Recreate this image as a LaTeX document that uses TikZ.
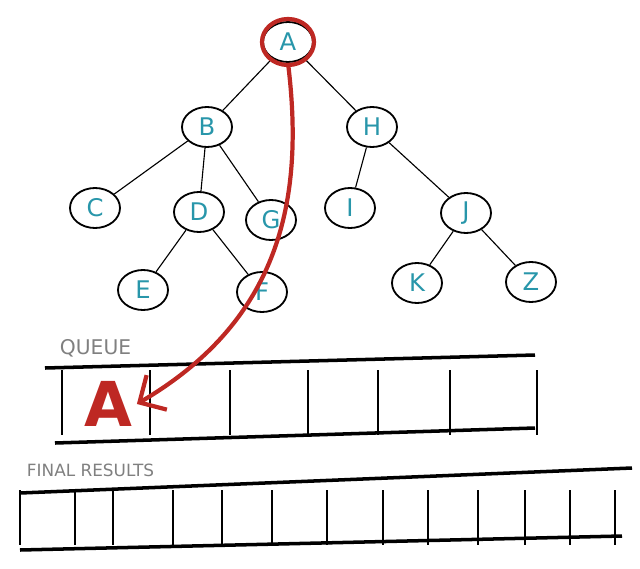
\documentclass[tikz,border=0pt]{standalone}
\usepackage{fontspec}
\setmainfont{DejaVu Sans}
\usetikzlibrary{shapes.geometric,arrows.meta}
\definecolor{teal}{RGB}{40,150,170}
\definecolor{pen}{RGB}{190,40,35}
\begin{document}
\begin{tikzpicture}[x=0.025cm,y=-0.025cm,
    vertex/.style ={ellipse, draw, line width=1.3pt, minimum width=1.25cm, minimum height=1cm, inner sep=0pt, text=teal, font=\LARGE},
    bar/.style={line width=2.5pt},
    tick/.style={line width=1.5pt}]
   \useasboundingbox (0,0) rectangle (640,568);
   \node[vertex] (A) at (288,42)  {A};
   \node[vertex] (B) at (207,127) {B};
   \node[vertex] (H) at (372,127) {H};
   \node[vertex] (C) at (95,208)  {C};
   \node[vertex] (D) at (199,212) {D};
   \node[vertex] (G) at (271,220) {G};
   \node[vertex] (I) at (350,208) {I};
   \node[vertex] (J) at (466,213) {J};
   \node[vertex] (E) at (143,290) {E};
   \node[vertex] (F) at (262,292) {F};
   \node[vertex] (K) at (417,283) {K};
   \node[vertex] (Z) at (531,282) {Z};

   \draw[thick] (A) to (B);
   \draw[thick] (A) to (H);
   \draw[thick] (B) to (C);
   \draw[thick] (B) to (D);
   \draw[thick] (B) to (G);
   \draw[thick] (H) to (I);
   \draw[thick] (H) to (J);
   \draw[thick] (D) to (E);
   \draw[thick] (D) to (F);
   \draw[thick] (J) to (K);
   \draw[thick] (J) to (Z);

   % queue
   \node[gray, font=\Large, anchor=west] (qlabel) at (55,348) {QUEUE};
   \draw[bar] (45,368) -- (535,355);
   \draw[bar] (55,443) -- (535,428);
   \foreach \x in {62,150,230,308,378,450,537}
     \draw[tick] (\x,370) -- (\x,435);

   % final results
   \node[gray, font=\large, anchor=west] (flabel) at (22,470) {FINAL RESULTS};
   \draw[bar] (20,493) -- (632,468);
   \draw[bar] (20,550) -- (622,536);
   \foreach \x in {20,75,113,173,222,272,327,383,428,478,525,570,615}
     \draw[tick] (\x,490) -- (\x,545);

   % red pen
   \draw[pen, line width=3pt] (A.center) ellipse [x radius=26, y radius=23];
   \node[pen, font=\fontsize{44}{44}\selectfont\bfseries] (qa) at (108,404) {A};
   \draw[pen, line width=3pt, -{Straight Barb[length=5mm]}] (A.south) .. controls (305,200) and (280,320) .. (qa.east);
\end{tikzpicture}
\end{document}
